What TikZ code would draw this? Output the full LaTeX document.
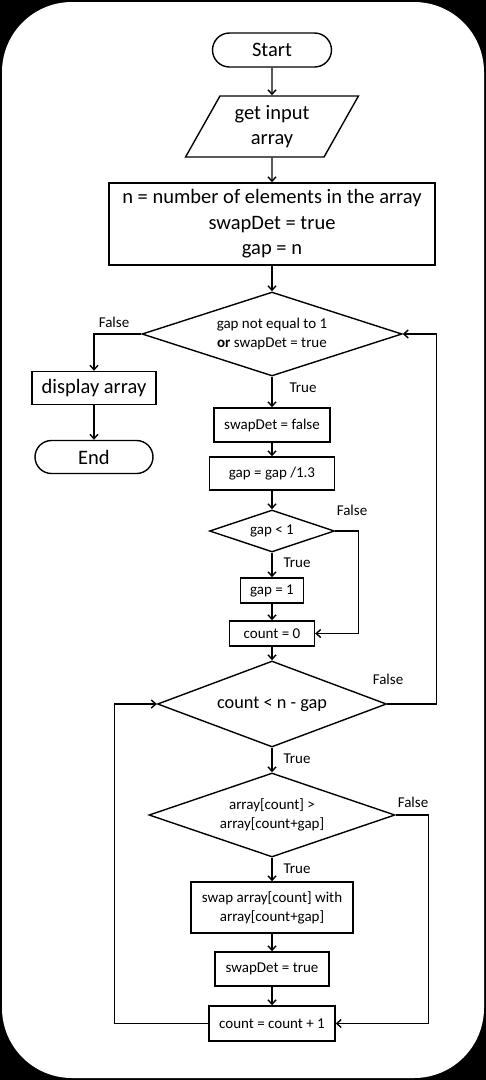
\documentclass[tikz,border=0pt]{standalone}
\usepackage{fontspec}
\setmainfont{Carlito}
\usetikzlibrary{shapes.geometric,shapes.misc,arrows.meta}
\begin{document}
\begin{tikzpicture}[x=1pt,y=-1pt,
  every node/.style={font=\fontsize{15}{19}\selectfont, align=center, inner sep=0pt},
  box/.style={draw, rectangle, line width=1.4pt},
  big/.style={font=\fontsize{20.5}{25.5}\selectfont},
  term/.style={draw, rounded rectangle, line width=1.4pt},
  dec/.style={draw, diamond, line width=1.4pt},
  lbl/.style={font=\fontsize{15}{18}\selectfont},
  conn/.style={draw, line width=1.4pt, -{Straight Barb[length=4.5pt,width=8pt]}}
]
\fill[black] (0,0) rectangle (486,1080);
\fill[white, rounded corners=70pt] (2,2) rectangle (484,1078);
\useasboundingbox (0,0) rectangle (486,1080);

\node[term,big,minimum width=119pt,minimum height=34pt] (start) at (272,50) {Start};
\node[draw,trapezium,trapezium left angle=60,trapezium right angle=120,trapezium stretches=true,minimum width=173pt,minimum height=61pt,big,line width=1.4pt] (input) at (272,126.5) {get input\\array};
\node[box,big,minimum width=326pt,minimum height=82pt] (init) at (272,224) {n = number of elements in the array\\swapDet = true\\gap = n};
\node[dec,aspect=3.1,minimum width=260pt,minimum height=84pt] (d1) at (272,334) {gap not equal to 1\\\textbf{or} swapDet = true};
\node[box,big,minimum width=124pt,minimum height=33pt] (disp) at (94,388) {display array};
\node[term,big,minimum width=118pt,minimum height=33pt] (endn) at (94,457) {End};
\node[box,minimum width=116pt,minimum height=34pt] (sdf) at (272,425) {swapDet = false};
\node[box,minimum width=125pt,minimum height=33pt] (gapdiv) at (272,473.5) {gap = gap /1.3};
\node[dec,aspect=3,minimum width=125pt,minimum height=42pt] (d2) at (272,531) {gap < 1};
\node[box,minimum width=63pt,minimum height=25pt] (gap1) at (272,590.5) {gap = 1};
\node[box,minimum width=85pt,minimum height=25pt] (count0) at (272,633.5) {count = 0};
\node[dec,font=\fontsize{18.3}{22}\selectfont,aspect=2.66,minimum width=229pt,minimum height=86pt] (d3) at (272,704) {count < n - gap};
\node[dec,aspect=2.93,minimum width=246pt,minimum height=84pt] (d4) at (272,815) {array[count] >\\array[count+gap]};
\node[box,minimum width=162pt,minimum height=51pt] (swap) at (272,907.5) {swap array[count] with\\array[count+gap]};
\node[box,minimum width=114pt,minimum height=34pt] (sdt) at (272,969) {swapDet = true};
\node[box,minimum width=126pt,minimum height=35pt] (cinc) at (272,1023.5) {count = count + 1};

\node[lbl] (f1) at (114,322) {False};
\node[lbl] (t1) at (303,388) {True};
\node[lbl] (f2) at (352,510) {False};
\node[lbl] (t2) at (297,563) {True};
\node[lbl] (f3) at (388,679) {False};
\node[lbl] (t3) at (297,759) {True};
\node[lbl] (f4) at (413,802) {False};
\node[lbl] (t4) at (297,869) {True};

\draw[conn] (start.south) -- (input.north);
\draw[conn] (input.south) -- (init.north);
\draw[conn] (init.south) -- (d1.north);
\draw[conn] (d1.west) -| (disp.north);
\draw[conn] (disp.south) -- (endn.north);
\draw[conn] (d1.south) -- (sdf.north);
\draw[conn] (sdf.south) -- (gapdiv.north);
\draw[conn] (gapdiv.south) -- (d2.north);
\draw[conn] (d2.south) -- (gap1.north);
\draw[conn] (gap1.south) -- (count0.north);
\draw[conn] (d2.east) -- ++(23,0) |- (count0.east);
\draw[conn] (count0.south) -- (d3.north);
\draw[conn] (d3.east) -- ++(49,0) |- (d1.east);
\draw[conn] (d3.south) -- (d4.north);
\draw[conn] (d4.south) -- (swap.north);
\draw[conn] (swap.south) -- (sdt.north);
\draw[conn] (sdt.south) -- (cinc.north);
\draw[conn] (d4.east) -- ++(33,0) |- (cinc.east);
\draw[conn] (cinc.west) -- ++(-94,0) |- (d3.west);
\end{tikzpicture}
\end{document}
